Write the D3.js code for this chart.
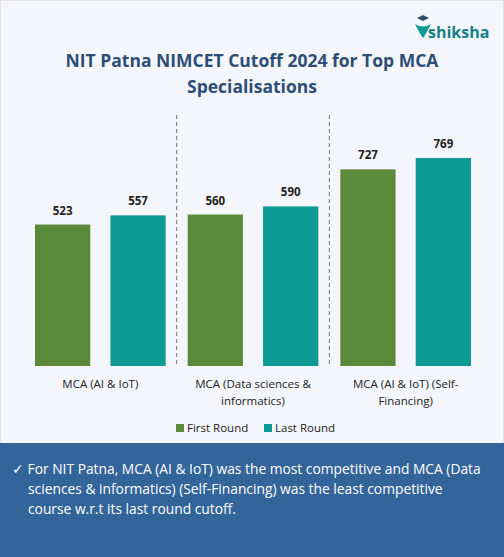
<!DOCTYPE html><html><head><meta charset="utf-8">
<script src="https://cdn.jsdelivr.net/npm/d3@7"></script>
<style>body{margin:0;}svg{display:block;font-family:"Open Sans",Calibri,sans-serif;}</style></head><body>
<svg id="c" width="504" height="557"></svg>
<script>
const categories=[["MCA (AI & IoT)"],["MCA (Data sciences &","informatics)"],["MCA (AI & IoT) (Self-","Financing)"]];
const firstRound=[523,560,727];
const lastRound=[557,590,769];
const seriesNames=["First Round","Last Round"];
const colors=["#5b8a3a","#0e9a94"];
const svg=d3.select("#c");
svg.append("rect").attr("x",0).attr("y",0).attr("width",504).attr("height",557).attr("fill","#f4f6fc").attr("stroke","#c9cfdc");
const lg=svg.append("g");
lg.append("path").attr("d","M415,24 q5,10 8,14 q3,-4 8,-14 q-8,5 -16,0z").attr("fill","#0e9a94");
lg.append("path").attr("d","M417,18 l6,-3 l6,3 l-6,3z").attr("fill","#2c4d6e");
lg.append("text").attr("x",428).attr("y",38).attr("font-size",16).attr("font-weight","bold").attr("fill","#167f87").text("shiksha");
svg.append("text").attr("x",252).attr("y",67).attr("text-anchor","middle").attr("font-size",17.5).attr("font-weight","bold").attr("fill","#2d4e76").text("NIT Patna NIMCET Cutoff 2024 for Top MCA");
svg.append("text").attr("x",252).attr("y",93).attr("text-anchor","middle").attr("font-size",17.5).attr("font-weight","bold").attr("fill","#2d4e76").text("Specialisations");
const x0=d3.scaleBand().domain(d3.range(3)).range([24,482]);
const x1=d3.scaleBand().domain([0,1]).range([11,x0.bandwidth()-11]).paddingInner(0.267);
const y=d3.scaleLinear().domain([0,769]).range([366,158]);
const data=[firstRound,lastRound];
[0,1,2].forEach(i=>{
  [0,1].forEach(s=>{
    const v=data[s][i],bx=x0(i)+x1(s);
    svg.append("rect").attr("x",bx).attr("y",y(v)).attr("width",x1.bandwidth()).attr("height",y(0)-y(v)).attr("fill",colors[s]);
    svg.append("text").attr("x",bx+x1.bandwidth()/2).attr("y",y(v)-10).attr("text-anchor","middle").attr("font-size",11.5).attr("font-weight","bold").attr("fill","#222").text(v);
  });
  categories[i].forEach((t,k)=>svg.append("text").attr("x",x0(i)+x0.bandwidth()/2).attr("y",388+k*17).attr("text-anchor","middle").attr("font-size",11.5).attr("fill","#222").text(t));
  if(i>0)svg.append("line").attr("x1",x0(i)).attr("x2",x0(i)).attr("y1",115).attr("y2",366).attr("stroke","#777").attr("stroke-dasharray","4,3");
});
const lx=[176,264];
seriesNames.forEach((n,s)=>{
  svg.append("rect").attr("x",lx[s]).attr("y",424).attr("width",8).attr("height",8).attr("fill",colors[s]);
  svg.append("text").attr("x",lx[s]+11).attr("y",432).attr("font-size",11.5).attr("fill","#222").text(n);
});
svg.append("rect").attr("x",0).attr("y",443).attr("width",504).attr("height",114).attr("fill","#34659a");
["✓ For NIT Patna, MCA (AI & IoT) was the most competitive and MCA (Data","sciences & informatics) (Self-Financing) was the least competitive","course w.r.t its last round cutoff."].forEach((t,k)=>
  svg.append("text").attr("x",k?28:12).attr("y",474+k*20).attr("font-size",13.8).attr("fill","#fff").text(t));
</script></body></html>
